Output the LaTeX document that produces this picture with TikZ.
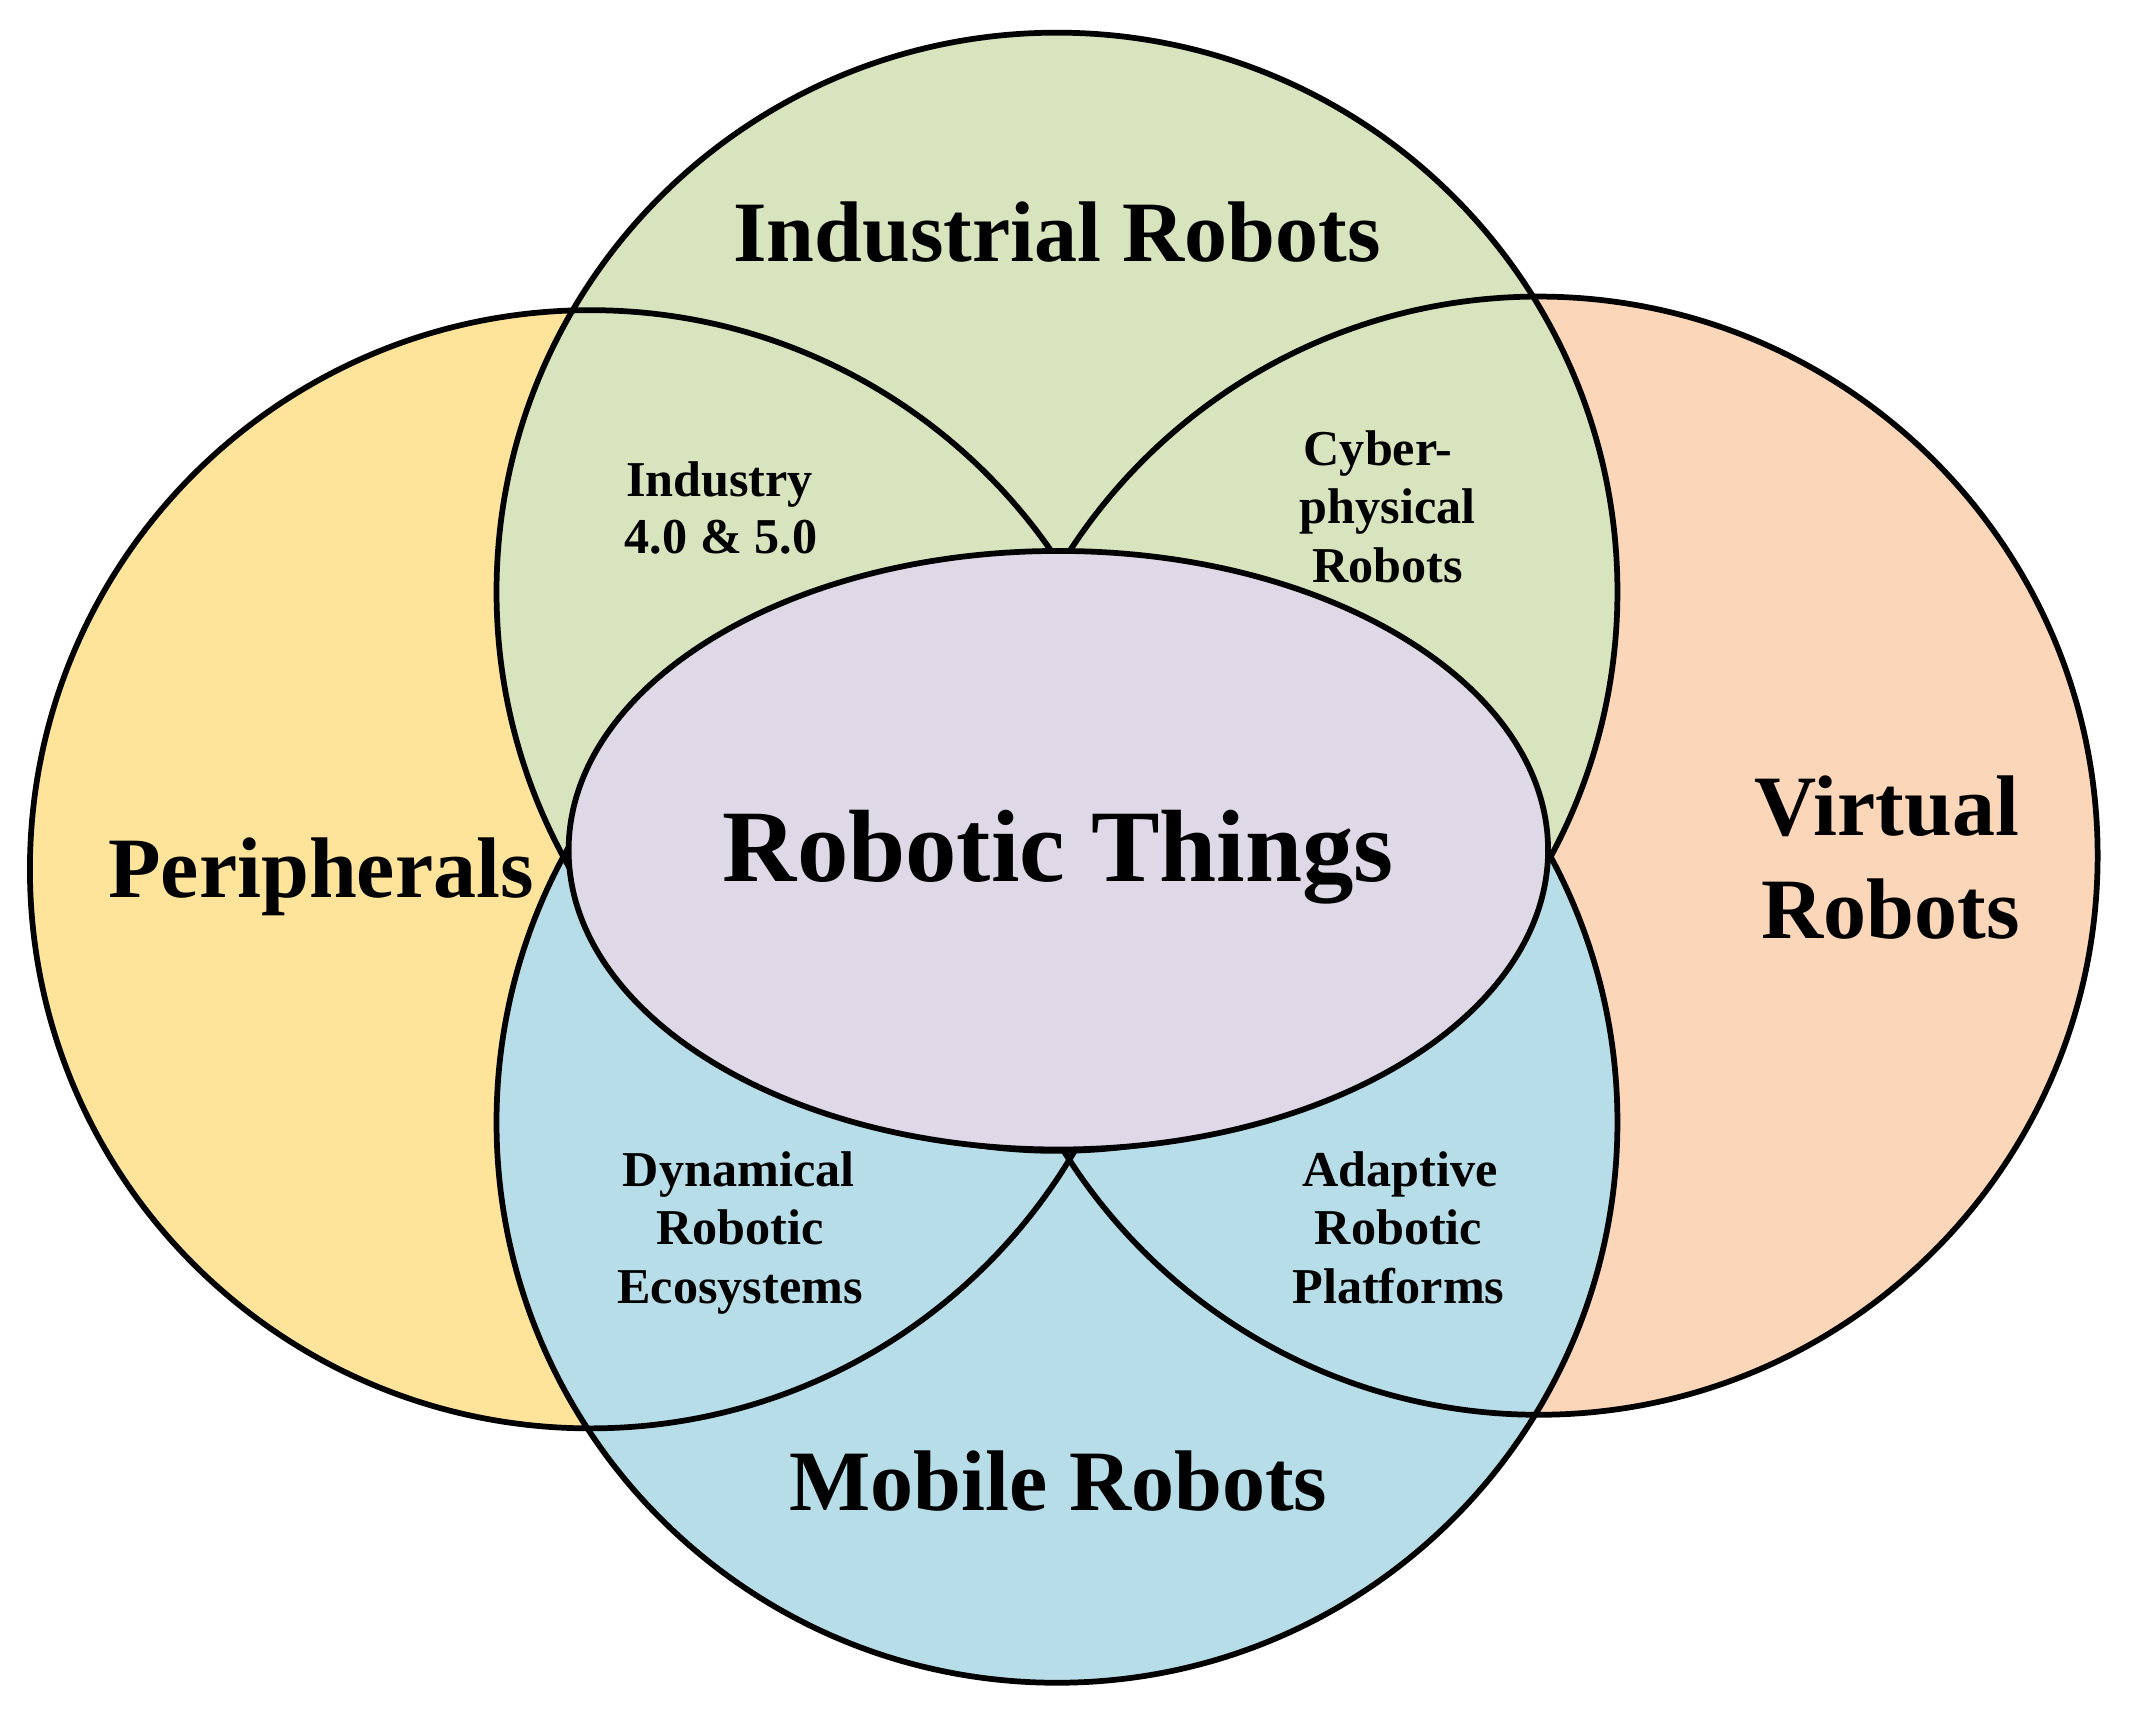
\documentclass[tikz,border=0pt]{standalone}
\usepackage{fontspec}
\setmainfont{Liberation Serif}
\definecolor{cyel}{HTML}{FEE49B}
\definecolor{cora}{HTML}{FBD6B8}
\definecolor{cgrn}{HTML}{D7E4BD}
\definecolor{cblu}{HTML}{B7DEE8}
\definecolor{cpur}{HTML}{DFD9E7}
\tikzset{
  outl/.style={line width=2.4pt, draw=black},
  big/.style={font=\fontsize{36}{43}\selectfont\bfseries, align=center, inner sep=0pt},
  small/.style={font=\fontsize{21}{24.5}\selectfont\bfseries, align=center, inner sep=0pt},
}
\begin{document}
\begin{tikzpicture}[x=0.02cm,y=-0.02cm]
\useasboundingbox (0,0) rectangle (1568,1259);
% fills
\fill[cyel] (434,639) ellipse [x radius=412, y radius=411];
\fill[cora] (1131,629) ellipse [x radius=411, y radius=411];
\fill[cgrn] (777,435) ellipse [x radius=412, y radius=411];
\fill[cblu] (777,825) ellipse [x radius=412, y radius=412];
% outlines
\draw[outl] (434,639) ellipse [x radius=412, y radius=411];
\draw[outl] (1131,629) ellipse [x radius=411, y radius=411];
\draw[outl] (777,435) ellipse [x radius=412, y radius=411];
\draw[outl] (777,825) ellipse [x radius=412, y radius=412];
% center
\draw[outl, fill=cpur] (778,625) ellipse [x radius=360, y radius=220];
% labels
\node[big, anchor=base] (ind) at (777,192) {Industrial Robots};
\node[big, anchor=base] (per) at (236,660) {Peripherals};
\node[big, anchor=base] (vir1) at (1387,614) {Virtual};
\node[big, anchor=base] (vir2) at (1390,690) {Robots};
\node[big, anchor=base] (mob) at (778,1110) {Mobile Robots};
\node[font=\fontsize{43}{50}\selectfont\bfseries, inner sep=0pt, anchor=base] (rt) at (778,648) {Robotic Things};
\node[small, anchor=base] (s1) at (529,365) {Industry};
\node[small, anchor=base] (s1b) at (530,407) {4.0 \& 5.0};
\node[small, anchor=base] (s2a) at (1013,342) {Cyber-};
\node[small, anchor=base] (s2b) at (1020,385) {physical};
\node[small, anchor=base] (s2c) at (1020,428) {Robots};
\node[small, anchor=base] (s3a) at (543,872) {Dynamical};
\node[small, anchor=base] (s3b) at (544,915) {Robotic};
\node[small, anchor=base] (s3c) at (544,958) {Ecosystems};
\node[small, anchor=base] (s4a) at (1029,872) {Adaptive};
\node[small, anchor=base] (s4b) at (1028,915) {Robotic};
\node[small, anchor=base] (s4c) at (1028,958) {Platforms};
\end{tikzpicture}
\end{document}
